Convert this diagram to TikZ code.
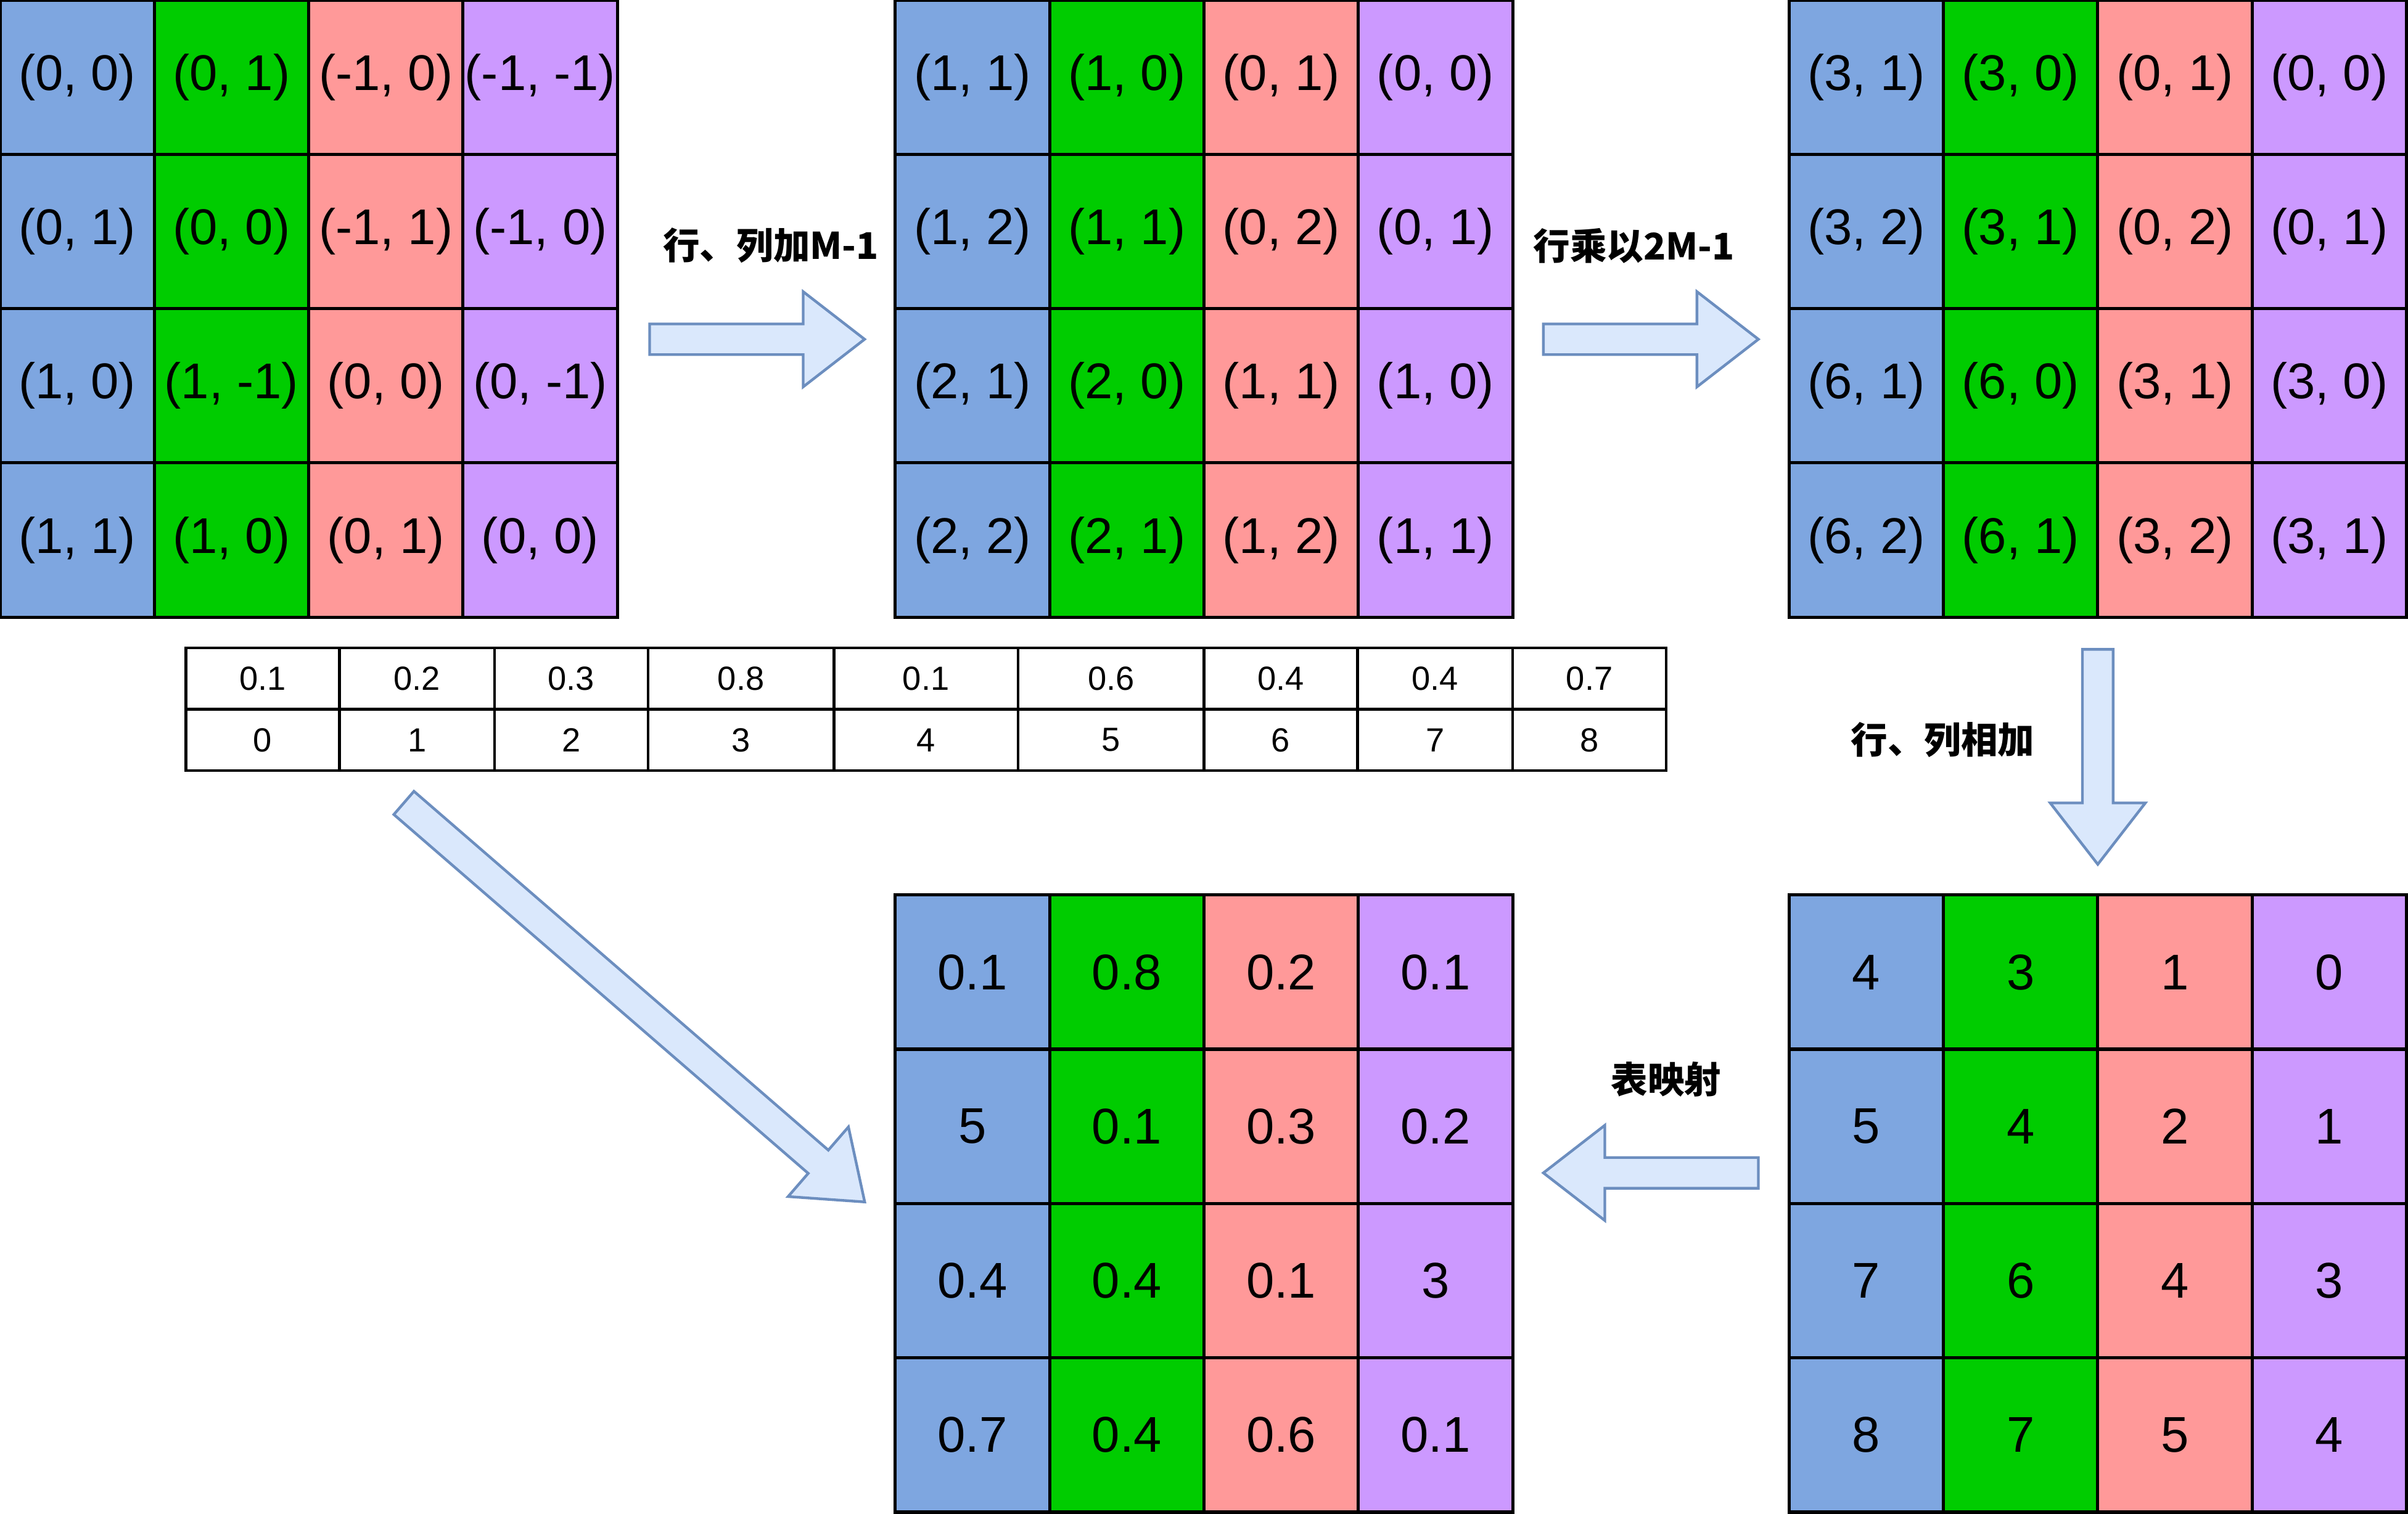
\documentclass[tikz,border=0pt]{standalone}
\usepackage{fontspec}
\setmainfont{Liberation Sans}
\newfontfamily\cjk{Noto Sans CJK SC}
\definecolor{cb}{HTML}{7EA6E0}
\definecolor{cg}{HTML}{00CC00}
\definecolor{cr}{HTML}{FF9999}
\definecolor{cp}{HTML}{CC99FF}
\definecolor{afill}{HTML}{DAE8FC}
\definecolor{aline}{HTML}{6C8EBF}
\tikzset{
 cell/.style={draw=black,line width=0.6pt,minimum width=1.005cm,minimum height=1.005cm,inner sep=0pt,font=\fontsize{9.3}{11}\selectfont},
 tcell/.style={draw=black,line width=0.5pt,minimum height=0.4cm,inner sep=0pt,font=\fontsize{6.2}{7}\selectfont},
 blk/.style={fill=afill,draw=aline,line width=0.5pt,line join=miter},
 lbl/.style={font=\cjk\bfseries\fontsize{6.8}{8}\selectfont}
}
\newcommand\gridrow[7]{%
 \node[cell,fill=cb] (#1-#3-0) at ({#2+50.25},{#3*100.5+50.25+\gy}) {#4};
 \node[cell,fill=cg] (#1-#3-1) at ({#2+150.75},{#3*100.5+50.25+\gy}) {#5};
 \node[cell,fill=cr] (#1-#3-2) at ({#2+251.25},{#3*100.5+50.25+\gy}) {#6};
 \node[cell,fill=cp] (#1-#3-3) at ({#2+351.75},{#3*100.5+50.25+\gy}) {#7};
}
\begin{document}
\begin{tikzpicture}[x=0.01cm,y=-0.01cm]
\useasboundingbox (0,0) rectangle (1568,986);
% grid A
\def\gy{0}
\gridrow{A}{0}{0}{(0, 0)}{(0, 1)}{(-1, 0)}{(-1, -1)}
\gridrow{A}{0}{1}{(0, 1)}{(0, 0)}{(-1, 1)}{(-1, 0)}
\gridrow{A}{0}{2}{(1, 0)}{(1, -1)}{(0, 0)}{(0, -1)}
\gridrow{A}{0}{3}{(1, 1)}{(1, 0)}{(0, 1)}{(0, 0)}
% grid B
\gridrow{B}{583}{0}{(1, 1)}{(1, 0)}{(0, 1)}{(0, 0)}
\gridrow{B}{583}{1}{(1, 2)}{(1, 1)}{(0, 2)}{(0, 1)}
\gridrow{B}{583}{2}{(2, 1)}{(2, 0)}{(1, 1)}{(1, 0)}
\gridrow{B}{583}{3}{(2, 2)}{(2, 1)}{(1, 2)}{(1, 1)}
% grid C
\gridrow{C}{1165}{0}{(3, 1)}{(3, 0)}{(0, 1)}{(0, 0)}
\gridrow{C}{1165}{1}{(3, 2)}{(3, 1)}{(0, 2)}{(0, 1)}
\gridrow{C}{1165}{2}{(6, 1)}{(6, 0)}{(3, 1)}{(3, 0)}
\gridrow{C}{1165}{3}{(6, 2)}{(6, 1)}{(3, 2)}{(3, 1)}
% grid D
\def\gy{583}
\gridrow{D}{583}{0}{0.1}{0.8}{0.2}{0.1}
\gridrow{D}{583}{1}{5}{0.1}{0.3}{0.2}
\gridrow{D}{583}{2}{0.4}{0.4}{0.1}{3}
\gridrow{D}{583}{3}{0.7}{0.4}{0.6}{0.1}
% grid E
\gridrow{E}{1165}{0}{4}{3}{1}{0}
\gridrow{E}{1165}{1}{5}{4}{2}{1}
\gridrow{E}{1165}{2}{7}{6}{4}{3}
\gridrow{E}{1165}{3}{8}{7}{5}{4}
% table
\foreach \l/\r/\a/\b in {121/221/0.1/0,221/322/0.2/1,322/422/0.3/2,422/543/0.8/3,543/663/0.1/4,663/784/0.6/5,784/884/0.4/6,884/985/0.4/7,985/1085/0.7/8}{
 \pgfmathsetmacro\w{(\r-\l)*0.01}
 \node[tcell,minimum width=\w cm] (t-\b-v) at ({(\l+\r)/2},442) {\a};
 \node[tcell,minimum width=\w cm] (t-\b-i) at ({(\l+\r)/2},482) {\b};
}
% arrows
\draw[blk] (423,211)--(523,211)--(523,190)--(563,221)--(523,252)--(523,231)--(423,231)--cycle;
\draw[blk] (1005,211)--(1105,211)--(1105,190)--(1145,221)--(1105,252)--(1105,231)--(1005,231)--cycle;
\draw[blk] (1356,423)--(1356,523)--(1335,523)--(1366,563)--(1397,523)--(1376,523)--(1376,423)--cycle;
\draw[blk] (1145,754)--(1045,754)--(1045,733)--(1005,764)--(1045,795)--(1045,774)--(1145,774)--cycle;
\begin{scope}[shift={(263,523)},rotate=-40.9]
\draw[blk] (0,-10)--(357,-10)--(357,-30)--(397,0)--(357,30)--(357,10)--(0,10)--cycle;
\end{scope}
% labels
\node[lbl] (l1) at (502,160) {行、列加M-1};
\node[lbl] (l2) at (1064,160) {行乘以2M-1};
\node[lbl] (l3) at (1265,482) {行、列相加};
\node[lbl] (l4) at (1085,703) {表映射};
\end{tikzpicture}
\end{document}
